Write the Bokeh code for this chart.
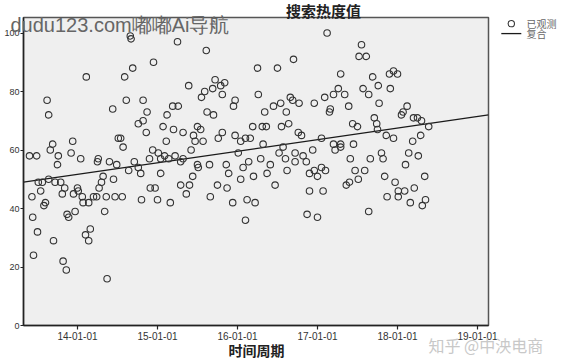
from bokeh.plotting import figure
from bokeh.models import Range1d, FixedTicker
from bokeh.core.properties import value
from bokeh.embed import file_html
from bokeh.resources import INLINE

title_text = "搜索热度值"
x_axis_title = "时间周期"
legend_observed = "已观测"
legend_fit = "复合"
watermark_top = "dudu123.com嘟嘟Ai导航"
watermark_bottom = "知乎 @中泱电商"

period_years = [
    2013.40, 2013.43, 2013.44, 2013.45, 2013.49, 2013.50, 2013.51, 2013.54, 2013.56, 2013.58,
    2013.60, 2013.62, 2013.64, 2013.64, 2013.66, 2013.69, 2013.70, 2013.72, 2013.75, 2013.76,
    2013.79, 2013.81, 2013.82, 2013.84, 2013.86, 2013.87, 2013.89, 2013.92, 2013.94, 2013.95,
    2013.97, 2014.00, 2014.01, 2014.04, 2014.06, 2014.07, 2014.10, 2014.11, 2014.14, 2014.14,
    2014.16, 2014.20, 2014.24, 2014.25, 2014.26, 2014.27, 2014.30, 2014.32, 2014.34, 2014.36,
    2014.37, 2014.40, 2014.44, 2014.45, 2014.47, 2014.49, 2014.51, 2014.54, 2014.56, 2014.57,
    2014.59, 2014.61, 2014.64, 2014.66, 2014.67, 2014.69, 2014.71, 2014.76, 2014.76, 2014.79,
    2014.80, 2014.82, 2014.82, 2014.86, 2014.87, 2014.90, 2014.91, 2014.94, 2014.95, 2014.97,
    2015.00, 2015.01, 2015.04, 2015.04, 2015.07, 2015.09, 2015.11, 2015.12, 2015.14, 2015.16,
    2015.19, 2015.20, 2015.22, 2015.25, 2015.26, 2015.29, 2015.29, 2015.32, 2015.32, 2015.36,
    2015.39, 2015.40, 2015.42, 2015.44, 2015.45, 2015.47, 2015.50, 2015.50, 2015.51, 2015.54,
    2015.55, 2015.57, 2015.59, 2015.61, 2015.62, 2015.65, 2015.66, 2015.69, 2015.70, 2015.72,
    2015.75, 2015.76, 2015.79, 2015.81, 2015.81, 2015.84, 2015.86, 2015.87, 2015.89, 2015.94,
    2015.95, 2015.97, 2015.97, 2016.01, 2016.04, 2016.04, 2016.07, 2016.10, 2016.10, 2016.12,
    2016.14, 2016.16, 2016.19, 2016.20, 2016.22, 2016.25, 2016.26, 2016.29, 2016.31, 2016.32,
    2016.34, 2016.36, 2016.37, 2016.41, 2016.45, 2016.47, 2016.50, 2016.52, 2016.54, 2016.55,
    2016.57, 2016.60, 2016.61, 2016.62, 2016.64, 2016.66, 2016.69, 2016.70, 2016.72, 2016.72,
    2016.76, 2016.77, 2016.80, 2016.82, 2016.86, 2016.87, 2016.90, 2016.90, 2016.94, 2016.96,
    2016.96, 2017.00, 2017.00, 2017.05, 2017.05, 2017.07, 2017.09, 2017.10, 2017.12, 2017.15,
    2017.16, 2017.20, 2017.20, 2017.22, 2017.26, 2017.29, 2017.29, 2017.29, 2017.34, 2017.36,
    2017.39, 2017.40, 2017.41, 2017.44, 2017.45, 2017.47, 2017.50, 2017.51, 2017.52, 2017.55,
    2017.57, 2017.59, 2017.61, 2017.64, 2017.64, 2017.66, 2017.69, 2017.71, 2017.74, 2017.75,
    2017.76, 2017.77, 2017.80, 2017.82, 2017.84, 2017.86, 2017.87, 2017.90, 2017.91, 2017.95,
    2017.95, 2017.97, 2018.00, 2018.01, 2018.01, 2018.05, 2018.07, 2018.09, 2018.10, 2018.12,
    2018.14, 2018.16, 2018.19, 2018.20, 2018.21, 2018.25, 2018.26, 2018.29, 2018.30, 2018.31,
    2018.34, 2018.35, 2018.39,
]

heat_values = [
    58, 44, 37, 24, 58, 32, 49, 46, 49, 41,
    42, 77, 72, 50, 60, 62, 29, 49, 55, 58,
    49, 45, 22, 47, 19, 38, 37, 59, 63, 45,
    39, 47, 46, 57, 44, 42, 31, 85, 42, 29,
    33, 44, 44, 56, 57, 47, 49, 51, 39, 44,
    16, 56, 74, 50, 44, 55, 64, 64, 44, 61,
    85, 77, 53, 99, 98, 88, 56, 69, 54, 52,
    43, 77, 70, 66, 73, 57, 47, 60, 90, 47,
    43, 59, 57, 52, 68, 58, 63, 72, 57, 42,
    75, 67, 58, 97, 75, 56, 48, 66, 57, 45,
    82, 48, 60, 51, 65, 63, 68, 55, 54, 67,
    78, 63, 80, 94, 73, 55, 44, 81, 72, 84,
    48, 64, 82, 79, 66, 83, 55, 47, 52, 42,
    75, 77, 65, 59, 63, 50, 54, 64, 36, 43,
    56, 64, 68, 51, 42, 88, 79, 57, 68, 62,
    73, 68, 52, 55, 75, 48, 88, 59, 76, 68,
    61, 57, 73, 53, 69, 78, 77, 91, 59, 56,
    66, 76, 65, 58, 56, 38, 52, 46, 60, 76,
    53, 51, 37, 64, 54, 46, 78, 53, 100, 73,
    74, 79, 62, 60, 81, 86, 62, 61, 79, 48,
    75, 49, 57, 69, 62, 53, 68, 50, 92, 96,
    81, 53, 92, 79, 39, 57, 85, 71, 69, 67,
    82, 76, 59, 57, 51, 65, 44, 86, 81, 87,
    64, 49, 86, 46, 44, 72, 73, 46, 55, 75,
    59, 42, 63, 71, 47, 71, 58, 65, 70, 41,
    51, 43, 68,
]

# compound-model fit line, read at both ends of the time window
fit_years = [2013.325, 2019.1375]
fit_values = [49.0, 72.0]

x_tick_years = [2014, 2015, 2016, 2017, 2018, 2019]
x_tick_labels = ["14-01-01", "15-01-01", "16-01-01", "17-01-01", "18-01-01", "19-01-01"]
y_ticks = [0, 20, 40, 60, 80, 100]

CJK = "Noto Sans CJK SC"
LAT = "Liberation Sans"

X0, X1 = 2013.325, 2019.1375
p = figure(
    width=562, height=360,
    output_backend="svg", toolbar_location=None,
    x_range=Range1d(X0, X1),
    y_range=Range1d(0, 105.3),
    min_border_left=23, min_border_right=74,
    min_border_top=17, min_border_bottom=35,
    background_fill_color="#efefef",
    border_fill_color="white",
    outline_line_color="#555555", outline_line_width=1.5,
)
p.xgrid.visible = False
p.ygrid.visible = False

for ax in (p.xaxis[0], p.yaxis[0]):
    ax.axis_line_color = "#222222"
    ax.axis_line_width = 1.5
    ax.major_tick_line_color = "#222222"
    ax.major_tick_line_width = 1.2
    ax.major_tick_in = 0
    ax.minor_tick_line_color = None
    ax.major_label_text_font = LAT
    ax.major_label_text_color = "#333333"

p.xaxis[0].ticker = FixedTicker(ticks=x_tick_years)
p.xaxis[0].major_label_overrides = {y: l for y, l in zip(x_tick_years, x_tick_labels)}
p.xaxis[0].major_tick_out = 4
p.xaxis[0].major_label_standoff = 2
p.xaxis[0].major_label_text_font_size = "10px"

p.yaxis[0].ticker = FixedTicker(ticks=y_ticks)
p.yaxis[0].major_tick_out = 3
p.yaxis[0].major_label_standoff = 1
p.yaxis[0].major_label_text_font_size = "9px"

POINT_COLOR = "#333333"
FIT_STYLE = dict(line_color="#1a1a1a", line_width=1.3)

p.line(fit_years, fit_values, **FIT_STYLE)
p.scatter(period_years, heat_values, marker="circle", size=6.5, fill_color=None,
          line_color=POINT_COLOR, line_width=1.1)

# key (legend) to the right of the frame, drawn on the overlay level
key_x = X1 + 0.16          # key symbol column, just right of the frame
key_text_x = X1 + 0.475
key_rows = [103.2, 99.8]
key_dot = [key_x + 0.125, key_x + 0.1251]
# open-circle key: a round-capped dot ring (dark outer, light inner)
p.line(key_dot, [key_rows[0], key_rows[0]], line_color=POINT_COLOR, line_width=7.4,
       line_cap="round", level="overlay")
p.line(key_dot, [key_rows[0], key_rows[0]], line_color="white", line_width=5.2,
       line_cap="round", level="overlay")
p.line([key_x, key_x + 0.25], [key_rows[1], key_rows[1]], level="overlay", **FIT_STYLE)
p.text(x=[key_text_x, key_text_x], y=key_rows, text=[legend_observed, legend_fit],
       text_align="left", text_baseline="middle", text_font=value(CJK),
       text_font_size="10px", text_color="#666666", level="overlay")

# title, axis title and watermarks as real text, drawn above the frame clip
p.text(x=[2017.075], y=[107.8], text=[title_text], text_align="center",
       text_baseline="middle", text_font=value(CJK), text_font_size="15px",
       text_font_style="bold", text_color="#222222", level="overlay")
p.text(x=[2016.2375], y=[-8.3], text=[x_axis_title], text_align="center",
       text_baseline="middle", text_font=value(CJK), text_font_size="14px",
       text_font_style="bold", text_color="#222222", level="overlay")
p.text(x=[2013.1625], y=[102.6], text=[watermark_top], text_align="left",
       text_baseline="middle", text_font=value(LAT), text_font_size="20px",
       text_color="#666666", level="overlay")
p.text(x=[2018.3875], y=[-6.8], text=[watermark_bottom], text_align="left",
       text_baseline="middle", text_font=value(CJK), text_font_size="16px",
       text_color="#c8c8c8", level="overlay")

open("out.html", "w").write(file_html(p, INLINE))
